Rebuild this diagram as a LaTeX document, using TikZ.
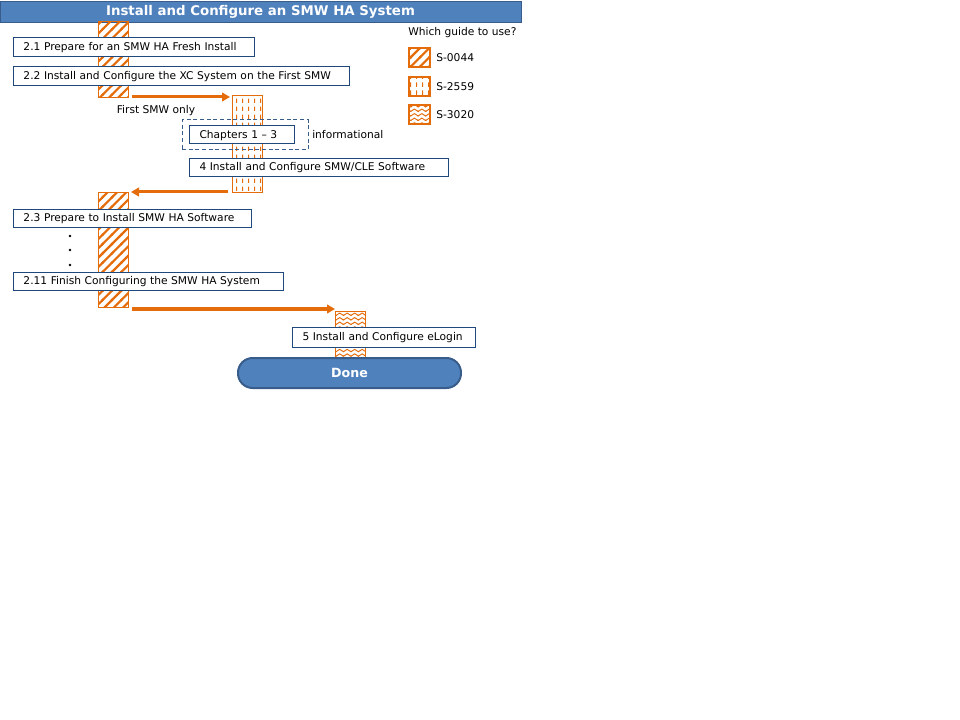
\documentclass[tikz,border=0pt]{standalone}
\usepackage{fontspec}
\setmainfont{DejaVu Sans}
\usetikzlibrary{positioning, arrows.meta, fit, patterns}

\definecolor{guideorange}{HTML}{E46C0A}
\definecolor{barblue}{HTML}{4F81BD}
\definecolor{barline}{HTML}{385D8A}
\definecolor{boxline}{HTML}{1F497D}

% Guide patterns: S-0044 stripes, S-2559 dashes, S-3020 waves
\pgfdeclarepatternformonly{guidediag}{\pgfqpoint{-1pt}{-1pt}}{\pgfqpoint{8pt}{8pt}}{\pgfqpoint{7pt}{7pt}}{%
  \pgfsetlinewidth{1.6pt}%
  \pgfpathmoveto{\pgfqpoint{-1pt}{-1pt}}%
  \pgfpathlineto{\pgfqpoint{8pt}{8pt}}%
  \pgfusepath{stroke}%
}
\pgfdeclarepatternformonly{guidedash}{\pgfqpoint{0pt}{0pt}}{\pgfqpoint{4.5pt}{6pt}}{\pgfqpoint{4.5pt}{6pt}}{%
  \pgfsetlinewidth{0.8pt}%
  \pgfpathmoveto{\pgfqpoint{2.25pt}{1pt}}%
  \pgfpathlineto{\pgfqpoint{2.25pt}{4.5pt}}%
  \pgfusepath{stroke}%
}
\pgfdeclarepatternformonly{guidewave}{\pgfqpoint{-0.5pt}{0pt}}{\pgfqpoint{6.1pt}{3.4pt}}{\pgfqpoint{5.6pt}{3.4pt}}{%
  \pgfsetlinewidth{0.7pt}%
  \pgfsetroundjoin%
  \pgfpathmoveto{\pgfqpoint{-0.5pt}{1.1pt}}%
  \pgfpathlineto{\pgfqpoint{0pt}{0.8pt}}%
  \pgfpathlineto{\pgfqpoint{2.8pt}{2.6pt}}%
  \pgfpathlineto{\pgfqpoint{5.6pt}{0.8pt}}%
  \pgfpathlineto{\pgfqpoint{6.1pt}{1.1pt}}%
  \pgfusepath{stroke}%
}

\begin{document}
\begin{tikzpicture}[
    x=0.75pt, y=-0.75pt,
    % Title bar style
    titlebar/.style={
        rectangle,
        draw=barline,
        fill=barblue,
        minimum width=390.75pt,
        minimum height=15.75pt,
        inner sep=0pt,
        text=white,
        font=\fontsize{10}{12}\selectfont\bfseries
    },
    % Step box style
    stepbox/.style={
        rectangle,
        draw=boxline,
        line width=0.75pt,
        fill=white,
        anchor=west,
        inner xsep=7.5pt,
        inner ysep=0pt,
        minimum height=14pt,
        text height=5.6pt,
        text depth=0.4pt,
        text width=#1,
        align=left,
        font=\fontsize{8}{10}\selectfont
    },
    % Guide column style
    guidecol/.style={
        rectangle,
        draw=guideorange,
        line width=0.75pt,
        pattern color=guideorange,
        inner sep=0pt
    },
    % Legend swatch style
    swatch/.style={
        guidecol,
        line width=1.1pt
    },
    % Arrow style
    flow/.style={
        -{Triangle[length=6pt, width=6.5pt]},
        line width=2.25pt,
        guideorange
    },
    % Plain text style
    note/.style={
        inner sep=0pt,
        font=\fontsize{8}{10}\selectfont
    },
    % Done terminator style
    donebox/.style={
        rectangle,
        rounded corners=11pt,
        draw=barline,
        line width=1.5pt,
        fill=barblue,
        minimum width=167.25pt,
        minimum height=22.5pt,
        text=white,
        font=\fontsize{9.5}{11}\selectfont\bfseries
    },
    dot/.style={
        circle,
        fill=black,
        inner sep=0pt,
        minimum size=2pt
    }
]
\useasboundingbox (0,0) rectangle (960,720);

% === Title ===
\node[titlebar] (title) at (260.5, 11.5) {Install and Configure an SMW HA System};

% === Guide columns ===
\node[guidecol, pattern=guidediag, fit={(98,22) (128,98)}] (colA) {};
\node[guidecol, pattern=guidedash, fit={(232,96) (262,193)}] (colB) {};
\node[guidecol, pattern=guidediag, fit={(98,193) (128,308)}] (colC) {};
\node[guidecol, pattern=guidewave, fit={(335,311) (365,358)}] (colD) {};

% === Steps from S-0044 ===
\node[stepbox=165.75pt] (prep) at (13, 47) {2.1 Prepare for an SMW HA Fresh Install};
\node[stepbox=237pt] (xcsys) at (13, 76) {2.2 Install and Configure the XC System on the First SMW};

% === First SMW only: S-2559 ===
\node[note] (firstonly) at (156, 111) {First SMW only};
\node[draw=barline, line width=0.75pt, dash pattern=on 3pt off 2pt, inner sep=0pt,
      fit={(182,120) (308,150)}] (infobox) {};
\node[stepbox=63.75pt, minimum height=13.5pt] (chap) at (189, 135) {Chapters 1 – 3};
\node[note, anchor=west] (info) at (312, 135) {informational};
\node[stepbox=179.25pt] (clesw) at (189, 167.5) {4 Install and Configure SMW/CLE Software};

% === Back to S-0044 ===
\node[stepbox=163.5pt] (haprep) at (13, 218.5) {2.3 Prepare to Install SMW HA Software};
\node[dot] (dotA) at (70, 236) {};
\node[dot] (dotB) at (70, 250) {};
\node[dot] (dotC) at (70, 265) {};
\node[stepbox=187.5pt] (hafin) at (13, 281.5) {2.11 Finish Configuring the SMW HA System};

% === eLogin: S-3020 ===
\node[stepbox=122.25pt, minimum height=15pt] (elogin) at (292, 337) {5 Install and Configure eLogin};
\node[donebox] (done) at (349.5, 373) {Done};

% === Arrows between guides ===
\coordinate (fromA) at (132, 97);
\coordinate (toB) at (230, 97);
\coordinate (fromB) at (228, 192);
\coordinate (toC) at (131, 192);
\coordinate (fromC) at (132, 309);
\coordinate (toD) at (335, 309);
\draw[flow] (fromA) -- (toB);
\draw[flow] (fromB) -- (toC);
\draw[flow] (fromC) -- (toD);

% === Legend ===
\node[note, anchor=west] (guideq) at (408, 33) {Which guide to use?};
\node[swatch, pattern=guidediag, fit={(409,48) (430,67)}] (key44) {};
\node[swatch, pattern=guidedash, fit={(409,77) (430,96)}] (key59) {};
\node[swatch, pattern=guidewave, fit={(409,105) (430,124)}] (key20) {};
\node[note, right=4pt of key44] (lbl44) {S-0044};
\node[note, right=4pt of key59] (lbl59) {S-2559};
\node[note, right=4pt of key20] (lbl20) {S-3020};

\end{tikzpicture}
\end{document}
